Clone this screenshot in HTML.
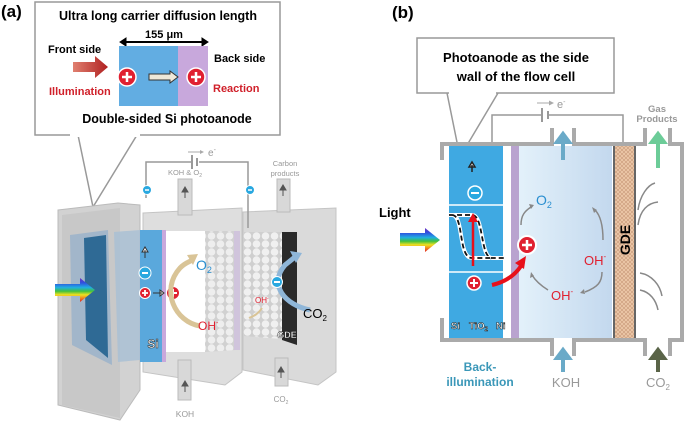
<!DOCTYPE html>
<html><head><meta charset="utf-8"><style>
body{margin:0;background:#fff}
svg{display:block;font-family:"Liberation Sans",Arial,sans-serif}
</style></head><body>
<svg width="685" height="425" viewBox="0 0 685 425" xmlns="http://www.w3.org/2000/svg">
<defs>
<linearGradient id="rb" x1="0" y1="0" x2="0" y2="1">
<stop offset="0" stop-color="#7030c0"/><stop offset=".2" stop-color="#3050e0"/><stop offset=".4" stop-color="#20b0e0"/><stop offset=".55" stop-color="#40c040"/><stop offset=".7" stop-color="#f0e020"/><stop offset=".85" stop-color="#f08020"/><stop offset="1" stop-color="#e02020"/></linearGradient>
<linearGradient id="el" x1="0" y1="0" x2="1" y2="0"><stop offset="0" stop-color="#e3f1fa"/><stop offset="1" stop-color="#c3d8ee"/></linearGradient>
<linearGradient id="ra" x1="0" y1="0" x2="1" y2="0"><stop offset="0" stop-color="#e08070"/><stop offset="1" stop-color="#b02020"/></linearGradient>
<pattern id="hx" width="4" height="4" patternUnits="userSpaceOnUse"><rect width="4" height="4" fill="#ecc8a8"/><path d="M0 0L4 4M4 0L0 4" stroke="#c89878" stroke-width=".6"/></pattern>
<pattern id="bub" width="9" height="8" patternUnits="userSpaceOnUse"><rect width="9" height="8" fill="#cfcfcf"/><circle cx="4.5" cy="4" r="3.8" fill="#f0f0f0"/></pattern>
</defs>

<!-- ===== Panel (a) ===== -->
<text x="1" y="17" font-size="17" font-weight="bold">(a)</text>
<path d="M78 135 L93 207 L137 135" fill="#fff" stroke="#999" stroke-width="1.5"/>
<rect x="35" y="2" width="245" height="133" fill="#fff" stroke="#999" stroke-width="1.5"/>
<rect x="70" y="134" width="70" height="3" fill="#fff"/>
<text x="158" y="20" font-size="12.5" font-weight="bold" text-anchor="middle">Ultra long carrier diffusion length</text>
<text x="164" y="38" font-size="11" font-weight="bold" text-anchor="middle">155 μm</text>
<path d="M122 42 H206" stroke="#000" stroke-width="2"/>
<path d="M120 42 l6 -4 v8z M208 42 l-6 -4 v8z" fill="#000" stroke="#000"/>
<rect x="119" y="46" width="59" height="60" fill="#62ade2"/>
<rect x="178" y="46" width="30" height="60" fill="#c8a8dc"/>
<text x="48" y="53" font-size="11" font-weight="bold">Front side</text>
<path d="M73 62 H95 V56 L108 67 L95 78 V72 H73z" fill="url(#ra)"/>
<text x="49" y="95" font-size="11" font-weight="bold" fill="#d0202a">Illumination</text>
<text x="214" y="62" font-size="11" font-weight="bold">Back side</text>
<text x="213" y="92" font-size="11" font-weight="bold" fill="#d0202a">Reaction</text>
<circle cx="127" cy="77" r="9" fill="#e02030" stroke="#fff" stroke-width="1.5"/><path d="M122 77h10M127 72v10" stroke="#fff" stroke-width="2.5"/>
<circle cx="196" cy="77" r="9" fill="#e02030" stroke="#fff" stroke-width="1.5"/><path d="M191 77h10M196 72v10" stroke="#fff" stroke-width="2.5"/>
<path d="M149 74 H170 V71 L178 77 L170 83 V80 H149z" fill="#eee8d8" stroke="#333"/>
<text x="167" y="123" font-size="12.5" font-weight="bold" text-anchor="middle">Double-sided Si photoanode</text>

<!-- 3D cell -->
<path d="M243 212 L336 208 L336 372 L318 385 L243 370z" fill="#dadada" stroke="#c4c4c4"/>
<path d="M243 232 L295 232 L295 340 L243 336z" fill="url(#bub)"/>
<path d="M282 232 L297 232 L297 345 L282 340z" fill="#2a2a2a"/>
<path d="M143 213 L242 208 L242 372 L225 385 L143 372z" fill="#dedede" stroke="#c4c4c4"/>
<path d="M166 231 L205 231 L205 352 L166 352z" fill="#fff"/>
<path d="M205 231 L236 231 L236 350 L205 352z" fill="url(#bub)" opacity=".9"/>
<path d="M234 231 L240 231 L240 350 L234 350z" fill="#d0c4dc"/>
<path d="M58 210 L118 203 L140 205 L140 390 L120 420 L58 405z" fill="#d2d2d2" stroke="#bbb"/>
<path d="M62 215 L120 208 L120 418 L62 405z" fill="#c8c8c8"/>
<path d="M70 235 L108 230 L112 365 L72 345z" fill="#a2b6ca"/>
<path d="M84 238 L106 235 L108 358 L86 340z" fill="#2f6a95"/>
<path d="M114 232 L140 230 L140 360 L118 362z" fill="#a8bfd4" opacity=".8"/>
<rect x="140" y="230" width="22" height="132" fill="#5aa8dc"/>
<rect x="162" y="230" width="4" height="132" fill="#c8a8dc"/>
<text x="153" y="348" font-size="12" font-weight="bold" fill="#fff" stroke="#333" stroke-width=".6" text-anchor="middle">Si</text>
<path d="M146 198 V162 H192 M199 162 H248 V228" fill="none" stroke="#999" stroke-width="1.5"/>
<path d="M192 155 v14 M197 158 v8" stroke="#999" stroke-width="2"/>
<path d="M188 152 H203" stroke="#aaa"/><path d="M204 152 l-4 -2 v4z" fill="#aaa"/>
<text x="208" y="156" font-size="10" fill="#999">e<tspan font-size="7" dy="-4">-</tspan></text>
<text x="185" y="175" font-size="7.5" fill="#999" text-anchor="middle">KOH &amp; O<tspan font-size="5" dy="2">2</tspan></text>
<text x="285" y="166" font-size="7.5" fill="#999" text-anchor="middle">Carbon</text>
<text x="285" y="176" font-size="7.5" fill="#999" text-anchor="middle">products</text>
<rect x="178" y="179" width="14" height="36" fill="#d8d8d8" stroke="#bbb"/>
<rect x="277" y="179" width="13" height="33" fill="#d8d8d8" stroke="#bbb"/>
<path d="M185 198 v-8 M182 192 l3 -5 3 5z M283 196 v-8 M280 190 l3 -5 3 5z" stroke="#555" fill="#555"/>
<rect x="178" y="360" width="13" height="40" fill="#d8d8d8" stroke="#bbb"/>
<rect x="275" y="358" width="13" height="28" fill="#d8d8d8" stroke="#bbb"/>
<path d="M185 392 v-8 M182 386 l3 -5 3 5z M281 378 v-8 M278 372 l3 -5 3 5z" stroke="#555" fill="#555"/>
<text x="185" y="417" font-size="8.5" fill="#999" text-anchor="middle">KOH</text>
<text x="281" y="402" font-size="8" fill="#999" text-anchor="middle">CO<tspan font-size="5" dy="2">2</tspan></text>
<circle cx="147" cy="190" r="4.5" fill="#29a8e0" stroke="#fff"/><path d="M145 190h4" stroke="#fff" stroke-width="1.5"/>
<circle cx="250" cy="190" r="4.5" fill="#29a8e0" stroke="#fff"/><path d="M248 190h4" stroke="#fff" stroke-width="1.5"/>
<path d="M145 258 v-8 M142 252 l3 -5 3 5z" stroke="#333" fill="#fff"/>
<circle cx="145" cy="273" r="6" fill="#29a8e0" stroke="#fff"/><path d="M142 273h6" stroke="#fff" stroke-width="2"/>
<circle cx="145" cy="293" r="5.5" fill="#e02030" stroke="#fff"/><path d="M142 293h6M145 290v6" stroke="#fff" stroke-width="1.8"/>
<path d="M153 293 H162 M160 290 l4 3 -4 3z" stroke="#333" fill="#eee"/>
<circle cx="173" cy="293" r="6.5" fill="#e02030" stroke="#fff"/><path d="M169 293h8M173 289v8" stroke="#fff" stroke-width="2"/>
<path d="M200 326 C175 322 160 290 180 268 C186 262 190 262 192 260" fill="none" stroke="#d9c497" stroke-width="5"/>
<path d="M187 255 L198 254 L193 265z" fill="#d9c497"/>
<text x="196" y="270" font-size="14" fill="#2a8fd0">O<tspan font-size="9" dy="3">2</tspan></text>
<text x="198" y="330" font-size="12" fill="#e02030">OH<tspan font-size="7" dy="-5">-</tspan></text>
<text x="255" y="303" font-size="8" fill="#e02030">OH<tspan font-size="5" dy="-3">-</tspan></text>
<path d="M262 308 C258 314 254 316 249 318" fill="none" stroke="#d9c497" stroke-width="2"/>
<path d="M310 310 C285 305 268 285 285 265 L295 257" fill="none" stroke="#8fb6d8" stroke-width="5"/>
<path d="M290 251 L302 253 L296 263z" fill="#8fb6d8"/>
<circle cx="277" cy="282" r="5.5" fill="#29a8e0" stroke="#fff"/><path d="M274 282h6" stroke="#fff" stroke-width="2"/>
<text x="303" y="318" font-size="13">CO<tspan font-size="8" dy="3">2</tspan></text>
<text x="287" y="338" font-size="9" font-weight="bold" fill="#fff" stroke="#222" stroke-width=".4" text-anchor="middle">GDE</text>
<path d="M55 284 H80 V278 L95 290 L80 302 V296 H55z" fill="url(#rb)"/>

<!-- ===== Panel (b) ===== -->
<text x="392" y="18" font-size="17" font-weight="bold">(b)</text>
<path d="M447 93 L460 157 L498 93" fill="#fff" stroke="#999" stroke-width="1.5"/>
<rect x="417" y="38" width="197" height="55" fill="#fff" stroke="#999" stroke-width="1.5"/>
<rect x="449" y="92" width="47" height="3" fill="#fff"/>
<text x="516" y="62" font-size="13" font-weight="bold" text-anchor="middle">Photoanode as the side</text>
<text x="516" y="81" font-size="13" font-weight="bold" text-anchor="middle">wall of the flow cell</text>
<rect x="449" y="146" width="54" height="192" fill="#3fa9e2"/>
<rect x="511" y="146" width="8" height="192" fill="#b9a3cf"/>
<rect x="519" y="146" width="93" height="192" fill="url(#el)"/>
<rect x="613" y="146" width="23" height="192" fill="url(#hx)"/>
<path d="M614 146V338M635 146V338" stroke="#666" stroke-width="2"/>
<path d="M449 205 H503 M449 272 H503" stroke="#fff" stroke-width="1.5"/>
<g fill="none" stroke="#aaa" stroke-width="4">
<path d="M442 160 V144 H552 V128"/><path d="M574 128 V144 H645 V128"/><path d="M670 128 V144 H682 V340 H670 V356"/>
<path d="M442 318 V340 H552 V356"/><path d="M574 356 V340 H645 V356"/>
</g>
<path d="M492 142 V115 H542 M548 115 H623 V142" fill="none" stroke="#999" stroke-width="1.5"/>
<path d="M542 108 v14 M548 111 v8" stroke="#999" stroke-width="2"/>
<path d="M537 103 H552" stroke="#aaa"/><path d="M554 103 l-5 -2.5 v5z" fill="#aaa"/>
<text x="557" y="108" font-size="11" fill="#999">e<tspan font-size="7" dy="-4">-</tspan></text>
<text x="657" y="112" font-size="9.5" font-weight="bold" fill="#999" text-anchor="middle">Gas</text>
<text x="657" y="122" font-size="9.5" font-weight="bold" fill="#999" text-anchor="middle">Products</text>
<path d="M563 160 V140 M557 142 l6 -8 6 8z" stroke="#6aaac8" stroke-width="4" fill="#6aaac8"/>
<path d="M658 168 V140 M652 142 l6 -8 6 8z" stroke="#6ccc98" stroke-width="4" fill="#6ccc98"/>
<path d="M563 372 V356 M557 358 l6 -8 6 8z" stroke="#6aaac8" stroke-width="4" fill="#6aaac8"/>
<path d="M658 372 V356 M652 358 l6 -8 6 8z" stroke="#5a6448" stroke-width="4" fill="#5a6448"/>
<text x="379" y="217" font-size="13" font-weight="bold">Light</text>
<path d="M400 233 H425 V228 L440 240 L425 252 V246 H400z" fill="url(#rb)"/>
<!-- band (black dashed with white glow) -->
<g fill="none">
<path d="M449 215 H472 C484 215 480 258 492 258 H505" stroke="#fff" stroke-width="4"/>
<path d="M449 215 H472 C484 215 480 258 492 258 H505" stroke="#111" stroke-width="1.8" stroke-dasharray="5 3"/>
<path d="M452 215 C464 215 458 258 472 258 H490" stroke="#fff" stroke-width="4"/>
<path d="M452 215 C464 215 458 258 472 258 H490" stroke="#111" stroke-width="1.8" stroke-dasharray="5 3"/>
</g>
<path d="M473 266 V218" stroke="#e8101a" stroke-width="2.5"/><path d="M468 222 l5 -9 5 9z" fill="#e8101a"/>
<path d="M472 172 v-7 M469 167 l3 -5 3 5z" stroke="#222" fill="#fff" stroke-width="1.5"/>
<circle cx="475" cy="193" r="7" fill="#29a8e0" stroke="#fff" stroke-width="1.5"/><path d="M471 193h8" stroke="#fff" stroke-width="2"/>
<circle cx="474" cy="283" r="7" fill="#e02030" stroke="#fff" stroke-width="1.5"/><path d="M470 283h8M474 279v8" stroke="#fff" stroke-width="2"/>
<path d="M492 285 C505 282 515 275 521 266" fill="none" stroke="#e8101a" stroke-width="4"/>
<path d="M515 263 L526 256 L524 269z" fill="#e8101a"/>
<circle cx="527" cy="245" r="9" fill="#e02030" stroke="#fff" stroke-width="2"/><path d="M522 245h10M527 240v10" stroke="#fff" stroke-width="2.5"/>
<text x="536" y="205" font-size="14" fill="#2a8fd0">O<tspan font-size="9" dy="3">2</tspan></text>
<path d="M521 225 C521 215 525 211 531 207" fill="none" stroke="#888" stroke-width="1.5"/><path d="M529 204 l5 1 -3 4z" fill="#888"/>
<path d="M603 240 C603 225 600 215 595 210" fill="none" stroke="#888" stroke-width="1.5"/><path d="M592 207 l2 6 3 -3z" fill="#888"/>
<path d="M602 272 C602 282 598 287 585 292" fill="none" stroke="#888" stroke-width="1.5"/><path d="M584 289 l-4 4 5 1z" fill="#888"/>
<path d="M548 290 C540 285 535 280 532 275" fill="none" stroke="#888" stroke-width="1.5"/><path d="M530 278 l1 -6 3 4z" fill="#888"/>
<text x="584" y="265" font-size="13" fill="#e02030">OH<tspan font-size="8" dy="-6">-</tspan></text>
<text x="551" y="300" font-size="13" fill="#e02030">OH<tspan font-size="8" dy="-6">-</tspan></text>
<text x="630" y="240" font-size="14" font-weight="bold" transform="rotate(-90 630 240)" text-anchor="middle">GDE</text>
<g fill="none" stroke="#888" stroke-width="1.5">
<path d="M638 210 C640 195 648 185 655 183"/><path d="M638 225 C640 210 648 203 658 202"/>
<path d="M662 296 C660 285 652 275 640 273"/><path d="M658 310 C656 300 650 292 640 290"/>
</g>
<text x="451" y="329" font-size="9.5" font-weight="bold" fill="#fff" stroke="#222" stroke-width=".5">Si</text>
<text x="469" y="329" font-size="9.5" font-weight="bold" fill="#fff" stroke="#222" stroke-width=".5">TiO<tspan font-size="6" dy="2">2</tspan></text>
<text x="496" y="329" font-size="9.5" font-weight="bold" fill="#fff" stroke="#222" stroke-width=".5">Ni</text>
<text x="480" y="371" font-size="12" font-weight="bold" fill="#3a97b8" text-anchor="middle">Back-</text>
<text x="480" y="386" font-size="12" font-weight="bold" fill="#3a97b8" text-anchor="middle">illumination</text>
<text x="566" y="387" font-size="13" fill="#999" text-anchor="middle">KOH</text>
<text x="658" y="387" font-size="13" fill="#999" text-anchor="middle">CO<tspan font-size="8" dy="3">2</tspan></text>
</svg>
</body></html>
